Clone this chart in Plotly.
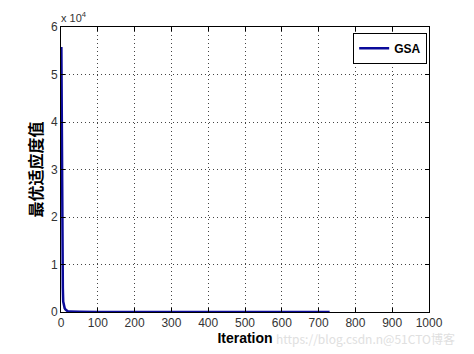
import plotly.graph_objects as go

# Data
iterations = [1, 2, 3, 4, 5, 6, 7, 8, 10, 12, 15, 18, 22, 30, 50, 100, 200, 400, 600, 730]
best_fitness = [55800, 35000, 21000, 11000, 5000, 2200, 1600, 1200, 800, 550, 300, 150, 80, 50, 30, 20, 15, 10, 8, 8]
series_name = "GSA"
y_tickvals = [0, 10000, 20000, 30000, 40000, 50000, 60000]
y_ticktext = ["0", "1", "2", "3", "4", "5", "6"]
x_tickvals = [0, 100, 200, 300, 400, 500, 600, 700, 800, 900, 1000]

fig = go.Figure()
fig.add_trace(go.Scatter(
    x=iterations, y=best_fitness, mode="lines", name=series_name,
    line=dict(color="#0a0a9a", width=2.5),
))

axis_common = dict(
    showline=True, linecolor="black", linewidth=1, mirror="ticks",
    ticks="inside", ticklen=4, tickcolor="black",
    showgrid=True, gridcolor="#444444", griddash="1px,3px", gridwidth=1,
    zeroline=False,
    tickfont=dict(family="Liberation Sans, Arial", size=12, color="#333333"),
)

fig.update_layout(
    width=474, height=354,
    margin=dict(l=61, r=45, t=27, b=39),
    paper_bgcolor="white", plot_bgcolor="white",
    showlegend=True,
    legend=dict(
        x=0.995, y=0.98, xanchor="right", yanchor="top",
        bgcolor="white", bordercolor="black", borderwidth=1,
        font=dict(family="Liberation Sans, Arial", size=12, color="black", weight="bold"),
        itemwidth=30, tracegroupgap=0,
    ),
    xaxis=dict(range=[0, 1000], tickvals=x_tickvals,
               title=dict(text="<b>Iteration</b>", standoff=2,
                          font=dict(family="Liberation Sans, Arial", size=14, color="black")),
               **axis_common),
    yaxis=dict(range=[0, 60000], tickvals=y_tickvals, ticktext=y_ticktext,
               title=dict(text="<b>最优适应度值</b>", standoff=4,
                          font=dict(family="Noto Sans CJK SC", size=16, color="black")),
               **axis_common),
    annotations=[
        dict(text="x 10<sup>4</sup>", x=0, y=1, xref="paper", yref="paper",
             xanchor="left", yanchor="bottom", showarrow=False, yshift=1, xshift=-2,
             font=dict(family="Liberation Sans, Arial", size=11, color="#333333")),
    ],
)
# faint watermark, positioned from pixel coordinates
fig.add_annotation(text="https://blog.csdn.n@51CTO博客", x=(365 - 61) / 368, y=(315 - 342) / 288,
                   xref="paper", yref="paper", showarrow=False, xanchor="center", yanchor="middle",
                   font=dict(family="Noto Sans CJK SC", size=12, color="#e0e0e0"))

fig.write_html("out.html")
